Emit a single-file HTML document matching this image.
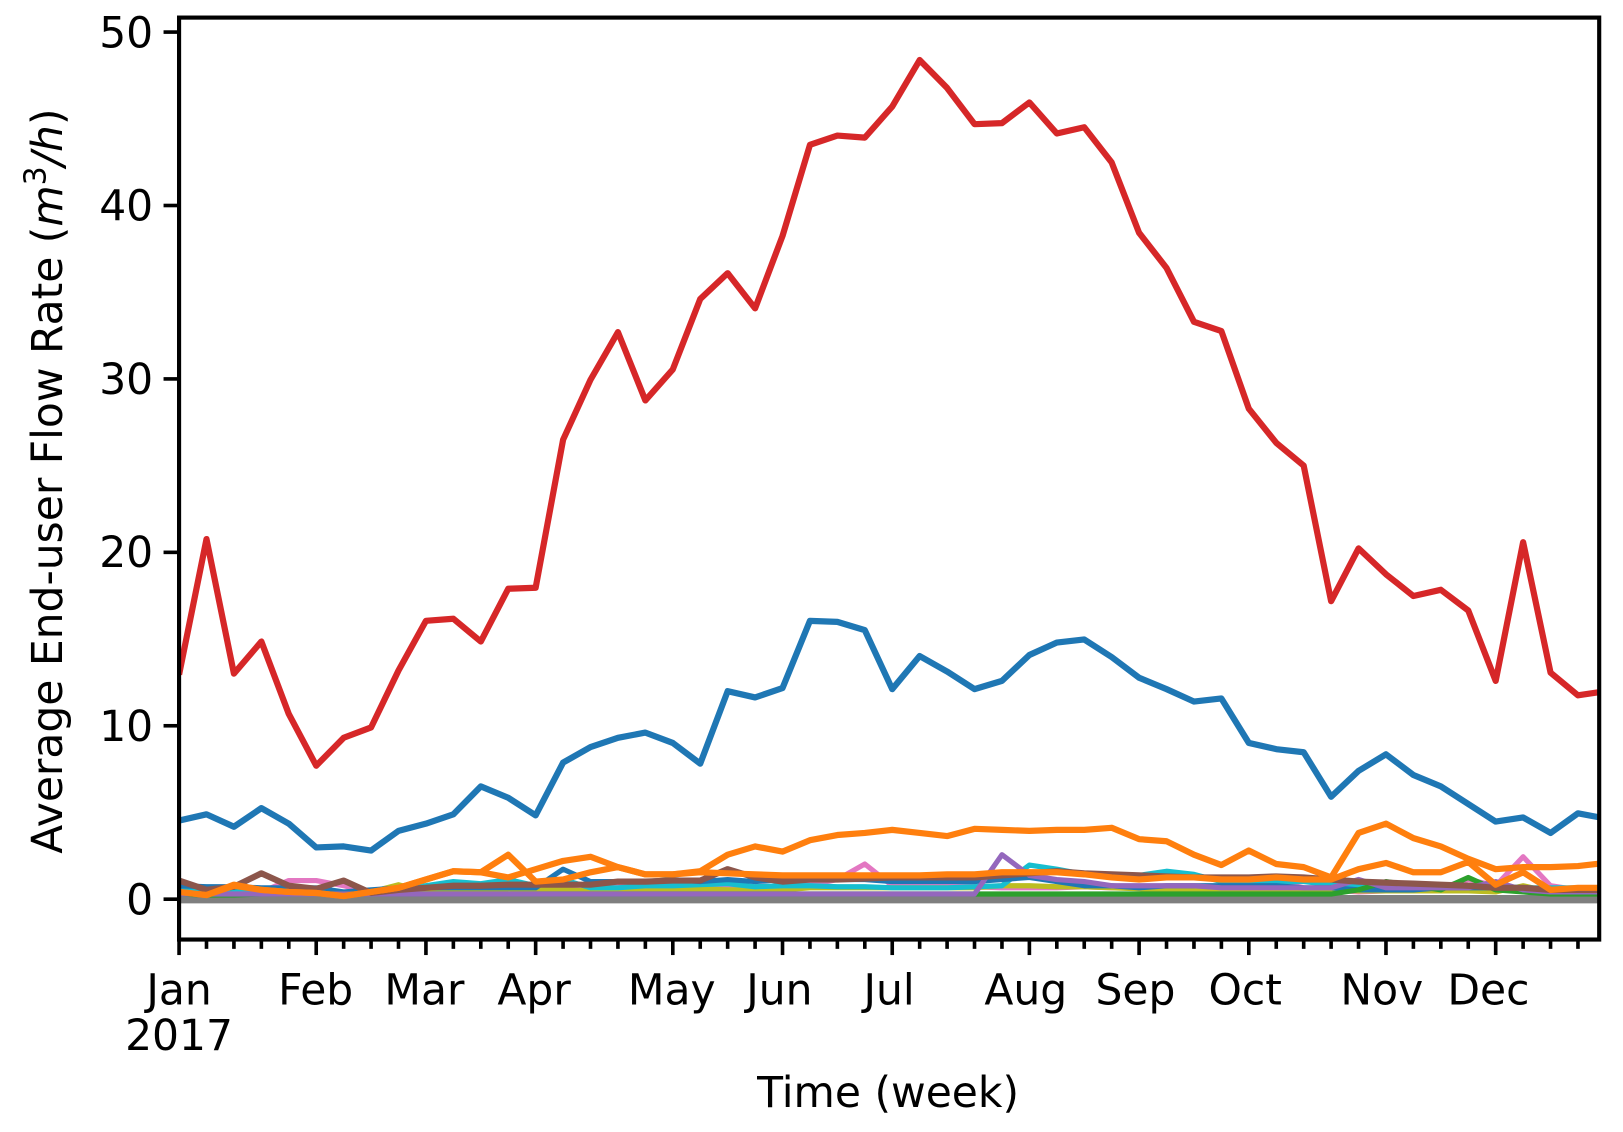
<!DOCTYPE html>
<html><head><meta charset="utf-8"><style>
html,body{margin:0;padding:0;background:#fff;}
svg{display:block;}
text{font-family:"DejaVu Sans","Liberation Sans",sans-serif;fill:#000;}
</style></head><body>
<svg id="s" width="1623" height="1132" viewBox="0 0 1568 1094" preserveAspectRatio="none" xmlns="http://www.w3.org/2000/svg">
<defs><clipPath id="c"><rect x="173" y="17" width="1372" height="891"/></clipPath></defs>
<g id="series" clip-path="url(#c)" fill="none" stroke-linejoin="round"></g>
<rect x="173" y="17" width="1372" height="891" fill="none" stroke="#000" stroke-width="4"/>
<g id="ticks" stroke="#000"></g>
<g font-size="41" text-anchor="end">
<text x="148" y="884">0</text><text x="148" y="716">10</text><text x="148" y="548">20</text><text x="148" y="381">30</text><text x="148" y="213">40</text><text x="148" y="46">50</text>
</g>
<g font-size="41" text-anchor="middle">
<text x="173" y="971">Jan</text><text x="173" y="1015">2017</text>
<text x="305" y="971">Feb</text><text x="410" y="971">Mar</text><text x="516" y="971">Apr</text>
<text x="649" y="971">May</text><text x="753" y="971">Jun</text><text x="859" y="971">Jul</text>
<text x="991" y="971">Aug</text><text x="1097" y="971">Sep</text><text x="1203" y="971">Oct</text>
<text x="1335" y="971">Nov</text><text x="1438" y="971">Dec</text>
<text x="858" y="1070">Time (week)</text>
<text transform="translate(60,465) rotate(-90)">Average End-user Flow Rate (<tspan font-style="italic">m</tspan><tspan font-size="29" dy="-16">3</tspan><tspan dy="16" font-style="italic">/h</tspan>)</text>
</g>
</svg>
<script>
var X=function(i){return 173+26.5*i;};
var ser=[
["#7f7f7f",8,[869,869,869,869,869,869,869,869,869,869,869,869,869,869,869,869,869,869,869,869,869,869,869,869,869,869,869,869,869,869,869,869,869,869,869,869,869,869,869,869,869,869,869,869,869,869,869,869,869,869,869,869,869]],
["#e377c2",5,[862,863,864,862,851,851,856,862,863,862,861,860,858,858,856,855,856,857,858,858,858,857,856,855,850,835,856,856,856,857,858,858,858,857,858,858,858,858,857,856,852,858,860,862,861,860,858,850,856,828,856,860,862]],
["#bcbd22",5,[852,864,864,862,862,863,864,862,855,862,861,860,859,860,860,861,861,861,860,859,860,860,860,858,858,858,858,858,858,858,856,856,857,857,858,859,860,861,861,861,861,860,860,861,861,861,861,861,862,856,862,858,862]],
["#17becf",5,[860,862,862,860,862,862,863,862,860,856,852,854,850,856,850,858,858,856,856,855,854,857,856,856,857,857,858,858,858,857,856,836,840,845,848,846,842,845,852,852,852,852,855,856,856,856,856,856,856,858,858,858,858]],
["#1f77b4",5,[856,857,857,858,858,858,862,860,858,858,858,858,858,858,840,852,852,852,850,852,850,852,850,850,850,850,852,852,852,852,850,848,852,856,856,858,856,856,856,856,856,858,858,860,860,860,858,858,858,860,860,860,862]],
["#2ca02c",5,[864,865,865,864,864,864,864,864,864,864,864,864,864,864,864,864,864,864,864,864,864,864,864,864,864,864,864,864,864,864,864,864,864,864,864,864,864,864,864,864,864,864,864,860,852,856,860,848,860,862,864,864,864]],
["#9467bd",5,[864,864,864,864,864,864,864,864,864,864,864,864,864,864,864,864,864,864,864,864,864,864,864,864,864,864,864,864,864,864,826,846,850,852,856,856,856,856,858,858,858,858,858,850,858,858,858,858,852,860,862,862,862]],
["#8c564b",6,[851,860,857,844,856,859,851,863,860,858,856,856,855,855,855,855,852,852,851,851,840,848,852,850,850,849,848,848,848,848,846,844,842,844,845,846,847,848,848,848,847,848,850,852,853,854,855,856,858,858,860,860,860]],
["#ff7f0e",6,[862,865,856,860,862,863,866,862,858,850,842,843,826,852,850,843,838,845,845,843,844,845,846,846,846,846,846,846,845,845,843,843,843,845,848,850,848,848,850,850,848,850,850,840,834,843,843,833,855,843,860,858,858]],
["#ff7f0e",6,[862,865,855,860,862,863,866,862,858,850,842,843,848,840,832,828,838,845,845,842,826,818,823,812,807,805,802,805,808,801,802,803,802,802,800,811,813,826,836,822,835,838,848,805,796,810,818,830,840,838,838,837,834]],
["#1f77b4",6,[793,787,799,781,796,819,818,822,803,796,787,760,771,788,737,722,713,708,718,738,668,674,665,600,601,609,666,634,649,666,658,633,621,618,635,655,666,678,675,718,724,727,770,745,729,749,760,777,794,790,805,786,791]],
["#d62728",6,[652,521,651,620,690,740,713,703,648,600,598,620,569,568,425,367,321,387,357,289,264,298,228,140,131,133,103,58,85,120,119,99,129,123,157,225,259,311,320,395,428,450,581,530,555,576,570,590,658,524,650,672,668]]
];
var NS="http://www.w3.org/2000/svg",g=document.getElementById("series");
ser.forEach(function(s){var p=document.createElementNS(NS,"polyline");
p.setAttribute("points",s[2].map(function(y,i){return X(i)+","+y;}).join(" "));
p.setAttribute("stroke",s[0]);p.setAttribute("stroke-width",s[1]);g.appendChild(p);});
var t=document.getElementById("ticks"),h="";
var major=[0,5,9,13,18,22,26,31,35,39,44,48];
for(var i=0;i<=51;i++){var L=major.indexOf(i)>=0?15:9;h+='<line x1="'+X(i)+'" y1="908" x2="'+X(i)+'" y2="'+(908+L)+'" stroke-width="3.5"/>';}
for(var v=0;v<=50;v+=10){var y=869-16.76*v;h+='<line x1="158" y1="'+y+'" x2="173" y2="'+y+'" stroke-width="3.5"/>';}
t.innerHTML=h;
</script>
</body></html>
